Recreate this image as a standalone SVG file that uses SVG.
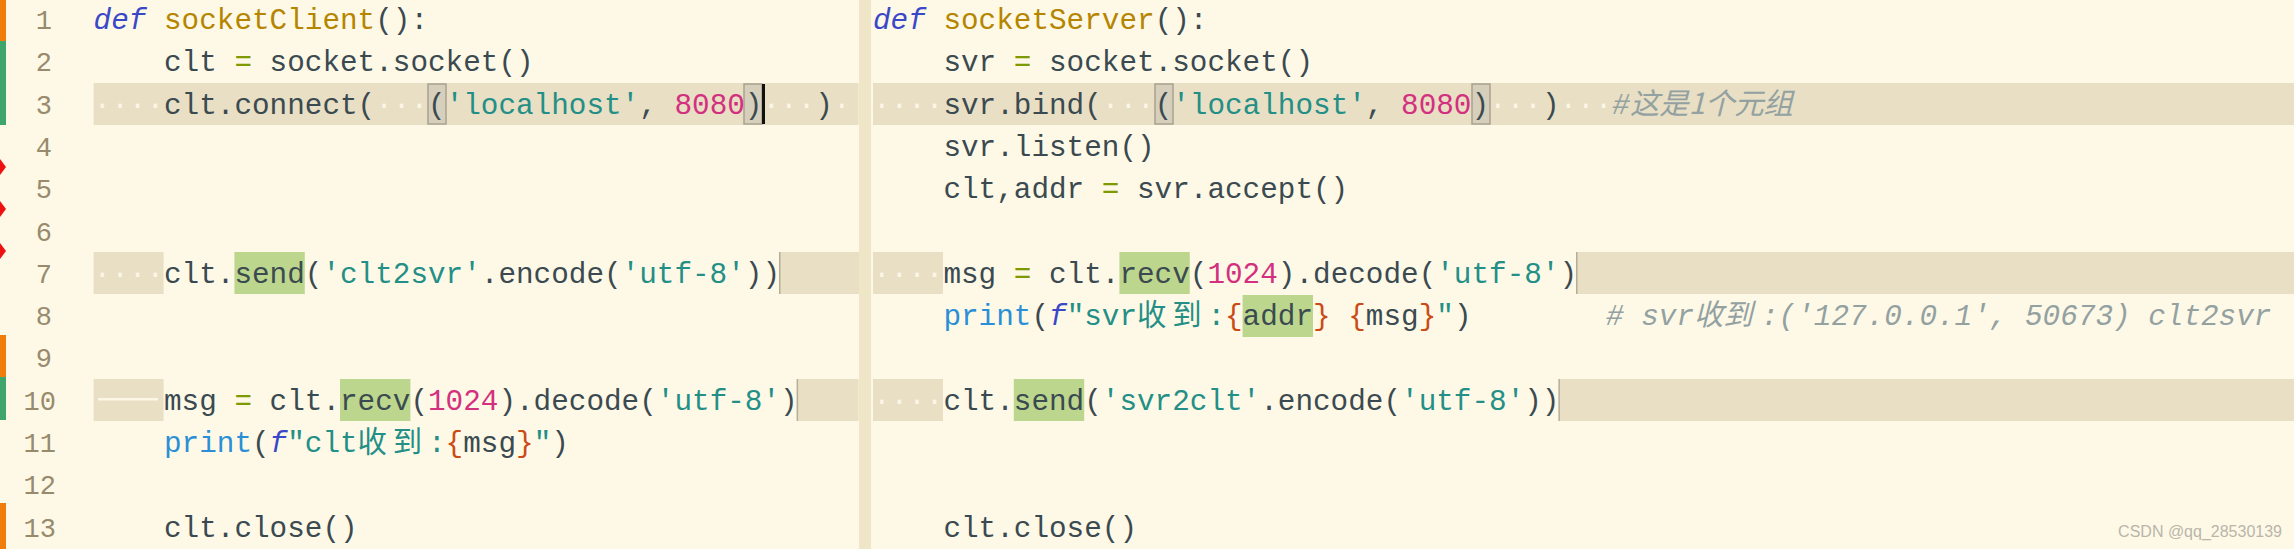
<svg xmlns="http://www.w3.org/2000/svg" width="2294" height="549" viewBox="0 0 2294 549">
<style>
text{font-family:"Liberation Mono","DejaVu Sans Mono","Noto Sans CJK SC",monospace;font-size:29.33px;fill:#3b4a50;white-space:pre}
.ln{fill:#988b6d;text-anchor:end;font-size:27px}
.kw{fill:#3a48c8;font-style:italic}
.fn{fill:#b58500}
.eq{fill:#7f9a00}
.st{fill:#238f86}
.nm{fill:#d3307f}
.pr{fill:#2a8fd6}
.br{fill:#cb4b16}
.cm{fill:#93a1a1;font-style:italic}
.dt{fill:#fbf6e6}
.cj{font-family:"Noto Sans CJK SC",sans-serif}
.hl{fill:#e8dfc4}
.gw{fill:#bcd78d}
.bx{fill:#d6cfbb;stroke:#a9a390;stroke-width:1.5}
</style>
<rect width="2294" height="549" fill="#fef9e7"/>
<g id="gutter">
<rect x="0" y="0" width="6" height="41" fill="#f07c0c"/>
<rect x="0" y="41" width="6" height="84" fill="#3ea66a"/>
<polygon points="0,159 6,167 0,175" fill="#ee1111"/>
<polygon points="0,201 6,209 0,217" fill="#ee1111"/>
<polygon points="0,243 6,251 0,259" fill="#ee1111"/>
<rect x="0" y="335" width="6" height="42" fill="#f07c0c"/>
<rect x="0" y="377" width="6" height="43" fill="#3ea66a"/>
<rect x="0" y="503" width="6" height="46" fill="#f07c0c"/>
<rect x="859" y="0" width="12" height="549" fill="#efe6c8"/>
</g>
<g id="highlights">
<rect class="hl" x="93.6" y="83" width="765" height="42"/>
<rect class="hl" x="873" y="83" width="1421" height="42"/>
<rect class="hl" x="93.6" y="252" width="70" height="42"/>
<rect class="hl" x="780" y="252" width="79" height="42"/>
<rect class="hl" x="873" y="252" width="70" height="42"/>
<rect class="hl" x="1577" y="252" width="717" height="42"/>
<rect class="hl" x="93.6" y="379" width="70" height="42"/>
<rect class="hl" x="797.6" y="379" width="61" height="42"/>
<rect class="hl" x="873" y="379" width="70" height="42"/>
<rect class="hl" x="1559.4" y="379" width="735" height="42"/>
<rect class="gw" x="234.4" y="252" width="70.4" height="42"/>
<rect class="gw" x="1119.4" y="252" width="70.4" height="42"/>
<rect class="gw" x="1242.6" y="295" width="70.4" height="42"/>
<rect class="gw" x="340" y="379" width="70.4" height="42"/>
<rect class="gw" x="1013.8" y="379" width="70.4" height="42"/>
<rect class="bx" x="428" y="84" width="18" height="40"/>
<rect class="bx" x="744" y="84" width="18" height="40"/>
<rect class="bx" x="1155" y="84" width="18" height="40"/>
<rect class="bx" x="1472" y="84" width="18" height="40"/>
<rect x="762" y="84" width="3" height="40" fill="#111"/>
<rect x="779" y="252" width="1.5" height="42" fill="#b5ad98"/>
<rect x="1576" y="252" width="1.5" height="42" fill="#b5ad98"/>
<rect x="796.6" y="379" width="1.5" height="42" fill="#b5ad98"/>
<rect x="1558.4" y="379" width="1.5" height="42" fill="#b5ad98"/>
<rect x="98" y="398" width="60" height="2.5" fill="#fbf6e6"/>
</g>
<g id="linenumbers">
<text class="ln" x="52" y="29">1</text>
<text class="ln" x="52" y="71.3">2</text>
<text class="ln" x="52" y="113.6">3</text>
<text class="ln" x="52" y="155.9">4</text>
<text class="ln" x="52" y="198.2">5</text>
<text class="ln" x="52" y="240.5">6</text>
<text class="ln" x="52" y="282.8">7</text>
<text class="ln" x="52" y="325.1">8</text>
<text class="ln" x="52" y="367.4">9</text>
<text class="ln" x="56" y="409.7">10</text>
<text class="ln" x="56" y="452">11</text>
<text class="ln" x="56" y="494.3">12</text>
<text class="ln" x="56" y="536.6">13</text>
</g>
<g id="client">
<text x="93.6" y="29"><tspan class="kw">def</tspan> <tspan class="fn">socketClient</tspan>():</text>
<text x="93.6" y="71.3">    clt <tspan class="eq">=</tspan> socket.socket()</text>
<text x="93.6" y="113.6"><tspan class="dt">····</tspan>clt.connect(<tspan class="dt">···</tspan>(<tspan class="st">'localhost'</tspan>, <tspan class="nm">8080</tspan>)<tspan class="dt">···</tspan>)<tspan class="dt">·</tspan></text>
<text x="93.6" y="282.8"><tspan class="dt">····</tspan>clt.send(<tspan class="st">'clt2svr'</tspan>.encode(<tspan class="st">'utf-8'</tspan>))</text>
<text x="93.6" y="409.7">    msg <tspan class="eq">=</tspan> clt.recv(<tspan class="nm">1024</tspan>).decode(<tspan class="st">'utf-8'</tspan>)</text>
<text x="93.6" y="452">    <tspan class="pr">print</tspan>(<tspan class="kw">f</tspan><tspan class="st">"clt</tspan></text>
<text class="cj st" x="357.6" y="452">收</text>
<text class="cj st" x="392.8" y="452">到</text>
<text x="428" y="452"><tspan class="st">:</tspan><tspan class="br">{</tspan>msg<tspan class="br">}</tspan><tspan class="st">"</tspan>)</text>
<text x="93.6" y="536.6">    clt.close()</text>
</g>
<g id="server">
<text x="873" y="29"><tspan class="kw">def</tspan> <tspan class="fn">socketServer</tspan>():</text>
<text x="873" y="71.3">    svr <tspan class="eq">=</tspan> socket.socket()</text>
<text x="873" y="113.6"><tspan class="dt">····</tspan>svr.bind(<tspan class="dt">···</tspan>(<tspan class="st">'localhost'</tspan>, <tspan class="nm">8080</tspan>)<tspan class="dt">···</tspan>)<tspan class="dt">···</tspan><tspan class="cm">#</tspan></text>
<text class="cm cj" x="1630" y="113.6">这是1个元组</text>
<text x="873" y="155.9">    svr.listen()</text>
<text x="873" y="198.2">    clt,addr <tspan class="eq">=</tspan> svr.accept()</text>
<text x="873" y="282.8"><tspan class="dt">····</tspan>msg <tspan class="eq">=</tspan> clt.recv(<tspan class="nm">1024</tspan>).decode(<tspan class="st">'utf-8'</tspan>)</text>
<text x="873" y="325.1">    <tspan class="pr">print</tspan>(<tspan class="kw">f</tspan><tspan class="st">"svr</tspan></text>
<text class="cj st" x="1137" y="325.1">收</text>
<text class="cj st" x="1172.2" y="325.1">到</text>
<text x="1207.4" y="325.1"><tspan class="st">:</tspan><tspan class="br">{</tspan>addr<tspan class="br">}</tspan> <tspan class="br">{</tspan>msg<tspan class="br">}</tspan><tspan class="st">"</tspan>)</text>
<text class="cm" x="1606" y="325.1"># svr</text>
<text class="cm cj" x="1694" y="325.1">收到</text>
<text class="cm" x="1761" y="325.1">:('127.0.0.1', 50673) clt2svr</text>
<text x="873" y="409.7"><tspan class="dt">····</tspan>clt.send(<tspan class="st">'svr2clt'</tspan>.encode(<tspan class="st">'utf-8'</tspan>))</text>
<text x="873" y="536.6">    clt.close()</text>
</g>
<text x="2282" y="537" style="font-family:'Liberation Sans',sans-serif;font-size:16px;fill:#b9b5aa;text-anchor:end">CSDN @qq_28530139</text>
</svg>
